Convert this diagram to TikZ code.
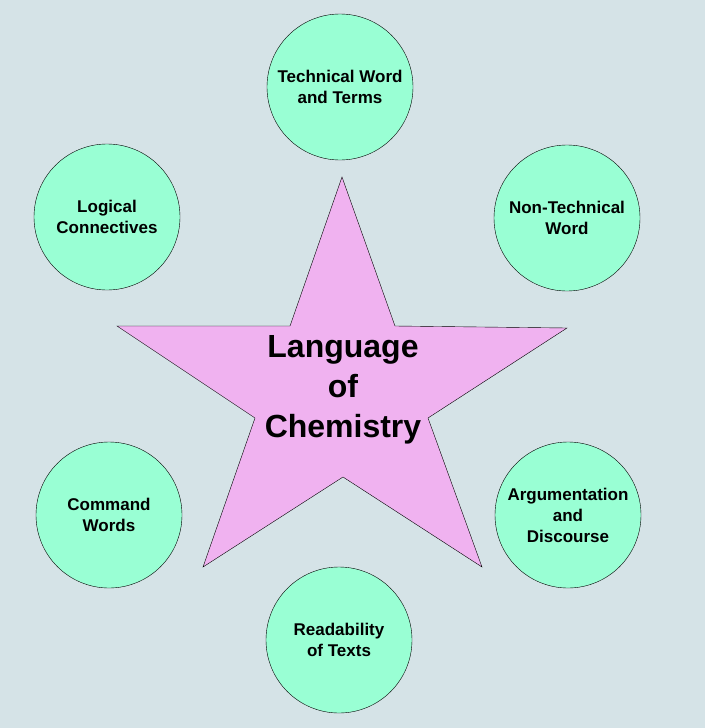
\documentclass[tikz,border=0pt]{standalone}
\usepackage{fontspec}
\setmainfont{Liberation Sans}
\definecolor{bg}{RGB}{213,227,231}
\definecolor{circ}{RGB}{153,255,212}
\definecolor{starc}{RGB}{240,178,240}
\begin{document}
\begin{tikzpicture}[x=1pt,y=-1pt,
  bub/.style={circle,draw=black,fill=circ,minimum size=146pt,inner sep=0pt,align=center,font=\bfseries\fontsize{17}{21}\selectfont}]
\useasboundingbox (0,0) rectangle (705,728);
\fill[bg] (0,0) rectangle (705,728);
\draw[fill=starc] (342,177) -- (395,326) -- (567,328) -- (428,418) -- (482,567) -- (343,477) -- (203,567) -- (255,418) -- (117,326) -- (290,326) -- cycle;
\node[font=\bfseries\fontsize{32}{40}\selectfont,align=center] (title) at (343,390) {Language\\of\\Chemistry};
\node[bub] (tw) at (340,87) {Technical Word\\and Terms};
\node[bub] (nt) at (567,218) {Non-Technical\\Word};
\node[bub] (lc) at (107,217) {Logical\\Connectives};
\node[bub] (cw) at (109,515) {Command\\Words};
\node[bub] (ad) at (568,515) {Argumentation\\and\\Discourse};
\node[bub] (rt) at (339,640) {Readability\\of Texts};
\end{tikzpicture}
\end{document}
